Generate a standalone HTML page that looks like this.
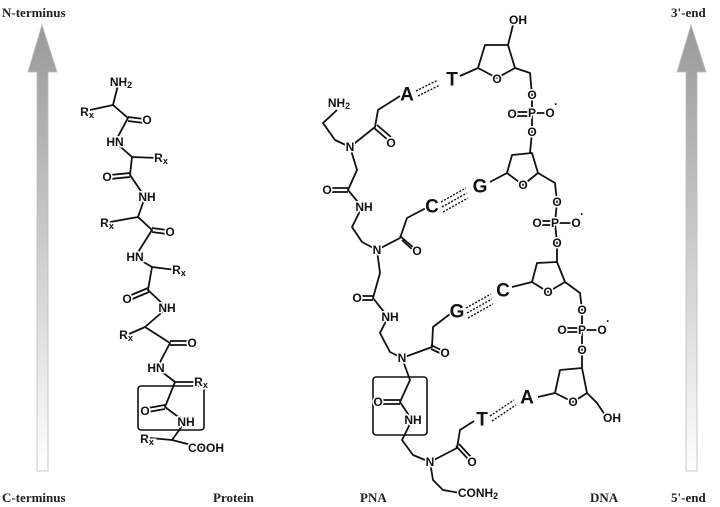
<!DOCTYPE html>
<html><head><meta charset="utf-8"><style>
html,body{margin:0;padding:0;background:#fff;}
svg{display:block;}
.lab{font-family:"Liberation Serif",serif;font-weight:bold;font-size:13px;fill:#222;}
.at{font-family:"Liberation Sans",sans-serif;font-weight:bold;font-size:12px;fill:#111;text-anchor:middle;dominant-baseline:central;paint-order:stroke;stroke:#fff;stroke-width:3px;}
.bs{font-family:"Liberation Sans",sans-serif;font-weight:bold;font-size:19px;fill:#111;text-anchor:middle;dominant-baseline:central;paint-order:stroke;stroke:#fff;stroke-width:3px;}
.b{fill:none;stroke:#111;stroke-width:1.8;stroke-linejoin:round;}
.d{fill:none;stroke:#111;stroke-width:1.4;stroke-dasharray:2 1.5;}
</style></head><body>
<svg width="720" height="507" viewBox="0 0 720 507" xmlns="http://www.w3.org/2000/svg">
<defs>
<linearGradient id="g" x1="0" y1="0" x2="0" y2="1">
<stop offset="0" stop-color="#999"/><stop offset="1" stop-color="#fff"/>
</linearGradient>
</defs>
<polygon points="42,25 57,72 48,72 48,471 37,471 37,72 28,72" fill="url(#g)" stroke="#bbb" stroke-width="0.8"/>
<polygon points="691,25 706,72 697,72 697,471 686,471 686,72 677,72" fill="url(#g)" stroke="#bbb" stroke-width="0.8"/>
<text class="lab" x="2" y="17">N-terminus</text>
<text class="lab" x="671" y="17">3'-end</text>
<text class="lab" x="2" y="502">C-terminus</text>
<text class="lab" x="213" y="502">Protein</text>
<text class="lab" x="360" y="502">PNA</text>
<text class="lab" x="590" y="502">DNA</text>
<text class="lab" x="671" y="502">5'-end</text>

<!-- Protein -->
<polyline class="b" points="118,85 113,105 128,118 115,142 132,157 130,175 145,197 138,217 152,230 135,257 152,267 148,290 167,308 145,327 170,343 157,368 175,382 165,407 185,422 172,440 203,448"/>
<polyline class="b" points="113,105 90,110"/>
<polyline class="b" points="132,157 158,158"/>
<polyline class="b" points="138,217 110,222"/>
<polyline class="b" points="152,267 176,270"/>
<polyline class="b" points="145,327 129,334"/>
<polyline class="b" points="175,382 198,382"/>
<polyline class="b" points="172,440 150,438"/>
<path class="b" d="M128,117 L144,119 M128,121 L144,123"/>
<path class="b" d="M130,173 L110,175 M130,177 L110,179"/>
<path class="b" d="M152,228 L167,230 M152,232 L167,234"/>
<path class="b" d="M148,288 L129,296 M149,292 L130,300"/>
<path class="b" d="M170,341 L189,341 M170,345 L189,345"/>
<path class="b" d="M165,405 L148,408 M165,409 L148,412"/>
<rect x="138" y="386" width="66" height="44" rx="3" fill="none" stroke="#111" stroke-width="1.6"/>
<text class="at" x="121" y="82">NH<tspan font-size="9" dy="3">2</tspan></text>
<text class="at" x="87" y="112">R<tspan font-size="9" dy="3">x</tspan></text>
<text class="at" x="147" y="120">O</text>
<text class="at" x="115" y="142">HN</text>
<text class="at" x="161" y="158">R<tspan font-size="9" dy="3">x</tspan></text>
<text class="at" x="107" y="177">O</text>
<text class="at" x="147" y="197">NH</text>
<text class="at" x="107" y="223">R<tspan font-size="9" dy="3">x</tspan></text>
<text class="at" x="170" y="232">O</text>
<text class="at" x="135" y="257">HN</text>
<text class="at" x="179" y="270">R<tspan font-size="9" dy="3">x</tspan></text>
<text class="at" x="127" y="299">O</text>
<text class="at" x="167" y="308">NH</text>
<text class="at" x="126" y="335">R<tspan font-size="9" dy="3">x</tspan></text>
<text class="at" x="192" y="343">O</text>
<text class="at" x="156" y="368">HN</text>
<text class="at" x="201" y="382">R<tspan font-size="9" dy="3">x</tspan></text>
<text class="at" x="145" y="411">O</text>
<text class="at" x="186" y="422">NH</text>
<text class="at" x="147" y="439">R<tspan font-size="9" dy="3">x</tspan></text>
<text class="at" x="206" y="448">COOH</text>

<!-- PNA -->
<polyline class="b" points="337,110 323,123 335,140 350,147 357,170 348,190 362,207 352,227 362,242 377,250 380,273 373,298 388,317 380,333 390,352 402,358 410,380 400,402 412,420 402,440 413,455 430,462 433,480 443,490 460,493"/>
<polyline class="b" points="350,147 375,127 378,110 400,96"/>
<polyline class="b" points="377,250 400,238 407,218 426,208"/>
<polyline class="b" points="402,358 432,347 433,327 450,314"/>
<polyline class="b" points="430,462 457,448 460,430 474,421"/>
<path class="b" d="M374,128 L388,140 M377,125 L391,137"/>
<path class="b" d="M348,188 L330,188 M348,192 L330,192"/>
<path class="b" d="M400,236 L414,248 M402,240 L414,251"/>
<path class="b" d="M373,296 L360,296 M373,300 L360,300"/>
<path class="b" d="M431,345 L443,351 M431,349 L442,354"/>
<path class="b" d="M400,400 L381,400 M400,404 L381,404"/>
<path class="b" d="M456,446 L468,459 M459,444 L471,457"/>
<rect x="373" y="377" width="54" height="58" rx="3" fill="none" stroke="#111" stroke-width="1.6"/>
<text class="at" x="339" y="103">NH<tspan font-size="9" dy="3">2</tspan></text>
<text class="at" x="350" y="147">N</text>
<text class="at" x="391" y="143">O</text>
<text class="at" x="327" y="190">O</text>
<text class="at" x="364" y="207">NH</text>
<text class="at" x="377" y="250">N</text>
<text class="at" x="417" y="251">O</text>
<text class="at" x="357" y="298">O</text>
<text class="at" x="390" y="317">NH</text>
<text class="at" x="402" y="358">N</text>
<text class="at" x="445" y="353">O</text>
<text class="at" x="378" y="402">O</text>
<text class="at" x="413" y="420">NH</text>
<text class="at" x="430" y="462">N</text>
<text class="at" x="472" y="462">O</text>
<text class="at" x="478" y="493">CONH<tspan font-size="9" dy="3">2</tspan></text>
<text class="bs" x="407" y="95">A</text>
<text class="bs" x="432" y="207">C</text>
<text class="bs" x="457" y="312">G</text>
<text class="bs" x="482" y="420">T</text>
<path class="d" d="M416,91 L438,80 M418,96 L440,85"/>
<path class="d" d="M441,202 L466,188 M442,207 L467,193 M443,212 L468,198"/>
<path class="d" d="M466,308 L491,294 M467,313 L492,299 M468,318 L493,304"/>
<path class="d" d="M490,416 L514,400 M492,421 L516,405"/>

<!-- DNA -->
<text class="bs" x="452" y="80">T</text>
<text class="bs" x="480" y="187">G</text>
<text class="bs" x="503" y="291">C</text>
<text class="bs" x="527" y="398">A</text>
<polyline class="b" points="460,76 478,68 497,78 515,68 508,45 485,45 478,68"/>
<polyline class="b" points="508,45 513,25"/>
<polyline class="b" points="515,68 530,73 532,95 532,113 532,132 530,153"/>
<path class="b" d="M512,112 L528,112 M512,116 L528,116 M536,113 L546,113"/>
<polyline class="b" points="490,182 507,173 523,185 538,173 532,153 512,155 507,173"/>
<polyline class="b" points="538,173 555,183 557,202 555,223 557,243 557,262"/>
<path class="b" d="M539,221 L552,221 M539,225 L552,225 M559,223 L572,223"/>
<polyline class="b" points="512,287 532,282 548,292 565,282 557,262 537,263 532,282"/>
<polyline class="b" points="565,282 580,293 582,310 582,330 582,350 582,368"/>
<path class="b" d="M564,328 L578,328 M564,332 L578,332 M586,330 L598,330"/>
<polyline class="b" points="538,397 555,393 573,402 587,393 582,368 560,370 555,393"/>
<polyline class="b" points="587,393 597,403 605,415"/>
<text class="at" x="518" y="20">OH</text>
<text class="at" x="497" y="79">O</text>
<text class="at" x="532" y="95">O</text>
<text class="at" x="532" y="113">P</text>
<text class="at" x="512" y="114">O</text>
<text class="at" x="550" y="113">O</text>
<text class="at" x="556" y="104" font-size="10">·</text>
<text class="at" x="532" y="132">O</text>
<text class="at" x="523" y="185">O</text>
<text class="at" x="557" y="202">O</text>
<text class="at" x="555" y="223">P</text>
<text class="at" x="537" y="223">O</text>
<text class="at" x="576" y="223">O</text>
<text class="at" x="582" y="214" font-size="10">·</text>
<text class="at" x="557" y="243">O</text>
<text class="at" x="548" y="292">O</text>
<text class="at" x="582" y="310">O</text>
<text class="at" x="582" y="330">P</text>
<text class="at" x="562" y="330">O</text>
<text class="at" x="602" y="330">O</text>
<text class="at" x="608" y="321" font-size="10">·</text>
<text class="at" x="582" y="350">O</text>
<text class="at" x="573" y="402">O</text>
<text class="at" x="612" y="418">OH</text>
</svg>
</body></html>
